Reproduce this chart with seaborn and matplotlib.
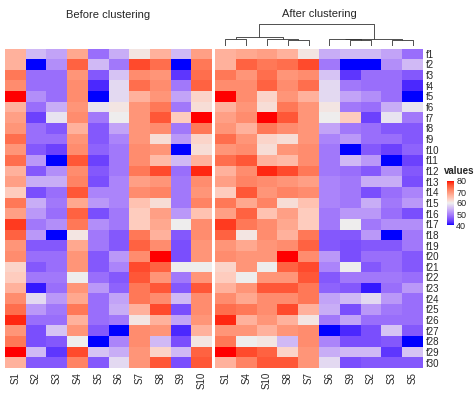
import numpy as np
import pandas as pd
import matplotlib
matplotlib.use('Agg')
import matplotlib.pyplot as plt
import seaborn as sns
from matplotlib.colors import ListedColormap, to_rgb

# ─── Data ─────────────────────────────────────────────────────────────────────

samples = ['S1', 'S2', 'S3', 'S4', 'S5', 'S6', 'S7', 'S8', 'S9', 'S10']
features = [f'f{i}' for i in range(1, 31)]

# one row per feature, one value per sample (S1..S10)
values = [
    [67, 55, 53, 68, 48, 54, 61, 67, 55, 69],
    [67, 40, 51, 75, 55, 49, 77, 74, 40, 73],
    [73, 48, 48, 70, 46, 56, 71, 70, 43, 74],
    [71, 48, 48, 71, 42, 58, 74, 71, 49, 75],
    [80, 51, 48, 71, 40, 58, 67, 70, 53, 63],
    [67, 48, 54, 70, 59, 61, 70, 73, 49, 62],
    [69, 44, 59, 71, 49, 60, 70, 76, 64, 80],
    [70, 48, 46, 67, 46, 53, 70, 71, 49, 73],
    [74, 48, 48, 70, 46, 50, 70, 62, 52, 63],
    [70, 46, 44, 71, 47, 49, 71, 70, 40, 62],
    [74, 52, 40, 76, 44, 49, 71, 66, 55, 67],
    [67, 46, 51, 71, 46, 49, 73, 77, 48, 79],
    [69, 54, 54, 72, 45, 50, 69, 70, 49, 71],
    [64, 45, 48, 76, 50, 50, 71, 72, 49, 70],
    [73, 54, 49, 68, 52, 50, 65, 62, 49, 72],
    [69, 52, 48, 75, 45, 49, 64, 69, 52, 65],
    [78, 49, 51, 73, 51, 49, 64, 68, 60, 71],
    [75, 52, 40, 61, 49, 46, 73, 67, 46, 71],
    [70, 46, 46, 68, 49, 46, 75, 71, 45, 70],
    [71, 48, 48, 70, 46, 52, 71, 80, 45, 70],
    [63, 46, 48, 70, 46, 50, 77, 75, 60, 60],
    [64, 49, 49, 60, 48, 46, 76, 70, 49, 70],
    [67, 41, 48, 70, 52, 47, 73, 76, 46, 76],
    [71, 58, 52, 68, 48, 53, 73, 71, 55, 71],
    [74, 52, 49, 73, 48, 54, 67, 77, 45, 71],
    [79, 48, 48, 67, 48, 49, 61, 67, 53, 70],
    [70, 45, 56, 70, 46, 40, 71, 70, 42, 67],
    [73, 45, 46, 60, 40, 50, 71, 55, 45, 61],
    [80, 55, 43, 77, 56, 54, 70, 63, 55, 75],
    [67, 46, 46, 72, 46, 58, 70, 76, 45, 76],
]

# column tree: (left, right, height); ints refer to earlier merges
merges = [
    ('S8', 'S7', 5.8),
    ('S10', 0, 7.0),
    ('S1', 'S4', 7.0),
    (2, 1, 9.3),
    ('S9', 'S2', 5.8),
    ('S6', 4, 6.8),
    ('S3', 'S5', 5.8),
    (5, 6, 7.2),
    (3, 7, 22.0),
]

legend_ticks = [40, 50, 60, 70, 80]


# ─── Colour ramp (blue - #EEEEEE - red, interpolated in LAB) ──────────────────

def rgb_to_lab(rgb):
    c = np.asarray(rgb, dtype=float)
    c = np.where(c <= 0.04045, c / 12.92, ((c + 0.055) / 1.055) ** 2.4)
    m = np.array([[0.4124, 0.3576, 0.1805],
                  [0.2126, 0.7152, 0.0722],
                  [0.0193, 0.1192, 0.9505]])
    xyz = m @ c / np.array([0.95047, 1.0, 1.08883])
    f = np.where(xyz > 0.008856, np.cbrt(xyz), 7.787 * xyz + 16 / 116)
    return np.array([116 * f[1] - 16, 500 * (f[0] - f[1]), 200 * (f[1] - f[2])])


def lab_to_rgb(lab):
    L, a, b = lab
    fy = (L + 16) / 116
    f = np.array([fy + a / 500, fy, fy - b / 200])
    xyz = np.where(f ** 3 > 0.008856, f ** 3, (f - 16 / 116) / 7.787)
    xyz = xyz * np.array([0.95047, 1.0, 1.08883])
    m = np.array([[3.2406, -1.5372, -0.4986],
                  [-0.9689, 1.8758, 0.0415],
                  [0.0557, -0.2040, 1.0570]])
    c = m @ xyz
    c = np.where(c <= 0.0031308, 12.92 * c, 1.055 * np.clip(c, 0, None) ** (1 / 2.4) - 0.055)
    return np.clip(c, 0, 1)


lab_lo, lab_mid, lab_hi = (rgb_to_lab(to_rgb(c)) for c in ('blue', '#EEEEEE', 'red'))
ramp = []
for t in np.linspace(0, 1, 256):
    if t < 0.5:
        lab = lab_lo + (lab_mid - lab_lo) * (t / 0.5)
    else:
        lab = lab_mid + (lab_hi - lab_mid) * ((t - 0.5) / 0.5)
    ramp.append(lab_to_rgb(lab))
cmap = ListedColormap(ramp)

# ─── Figure ───────────────────────────────────────────────────────────────────

sns.set_style('white')
plt.rcParams['font.family'] = ['Liberation Sans', 'DejaVu Sans']

W, H = 474, 395
fig = plt.figure(figsize=(W / 100, H / 100), dpi=100)


def px_axes(x0, y0, x1, y1):
    return fig.add_axes([x0 / W, 1 - y1 / H, (x1 - x0) / W, (y1 - y0) / H])


df = pd.DataFrame(values, index=features, columns=samples)


def leaf_order(node):
    if isinstance(node, str):
        return [node]
    l, r, _ = merges[node]
    return leaf_order(l) + leaf_order(r)


order = leaf_order(len(merges) - 1)

ax_l = px_axes(5, 48.5, 212, 368)
ax_r = px_axes(215, 48.5, 423, 368)
ax_d = px_axes(215, 24, 423, 46)
cax = px_axes(447, 181, 453.5, 225)

sns.heatmap(df, cmap=cmap, vmin=40, vmax=80, cbar=False,
            xticklabels=True, yticklabels=False, ax=ax_l)
sns.heatmap(df[order], cmap=cmap, vmin=40, vmax=80, cbar=True, cbar_ax=cax,
            xticklabels=True, yticklabels=True, ax=ax_r)

for ax in (ax_l, ax_r):
    ax.tick_params(axis='x', length=0, pad=3, labelsize=7, labelrotation=90)
    ax.set_xlabel('')
    ax.set_ylabel('')
ax_r.yaxis.tick_right()
ax_r.tick_params(axis='y', length=0, pad=2, labelsize=7, labelrotation=0)

# dendrogram over the clustered panel
pos = {s: i + 0.5 for i, s in enumerate(order)}


def draw_node(node):
    if isinstance(node, str):
        return pos[node], 0.0
    l, r, h = merges[node]
    xl, hl = draw_node(l)
    xr, hr = draw_node(r)
    ax_d.plot([xl, xl, xr, xr], [hl, h, h, hr], color='#333333', lw=0.6,
              solid_capstyle='butt')
    return (xl + xr) / 2, h


draw_node(len(merges) - 1)
ax_d.set_xlim(0, len(order))
ax_d.set_ylim(0, merges[-1][2])
ax_d.axis('off')

# colour legend
cb = ax_r.collections[0].colorbar
cb.set_ticks(legend_ticks)
cb.outline.set_visible(False)
cax.tick_params(length=0, pad=2, labelsize=6.5)
fig.text(444 / W, 1 - 171 / H, 'values', fontsize=7, fontweight='bold',
         ha='left', va='center')

fig.text(108 / W, 1 - 15 / H, 'Before clustering', fontsize=8, ha='center', va='center')
fig.text(319 / W, 1 - 14 / H, 'After clustering', fontsize=8, ha='center', va='center')

fig.savefig('out.png', dpi=100)
